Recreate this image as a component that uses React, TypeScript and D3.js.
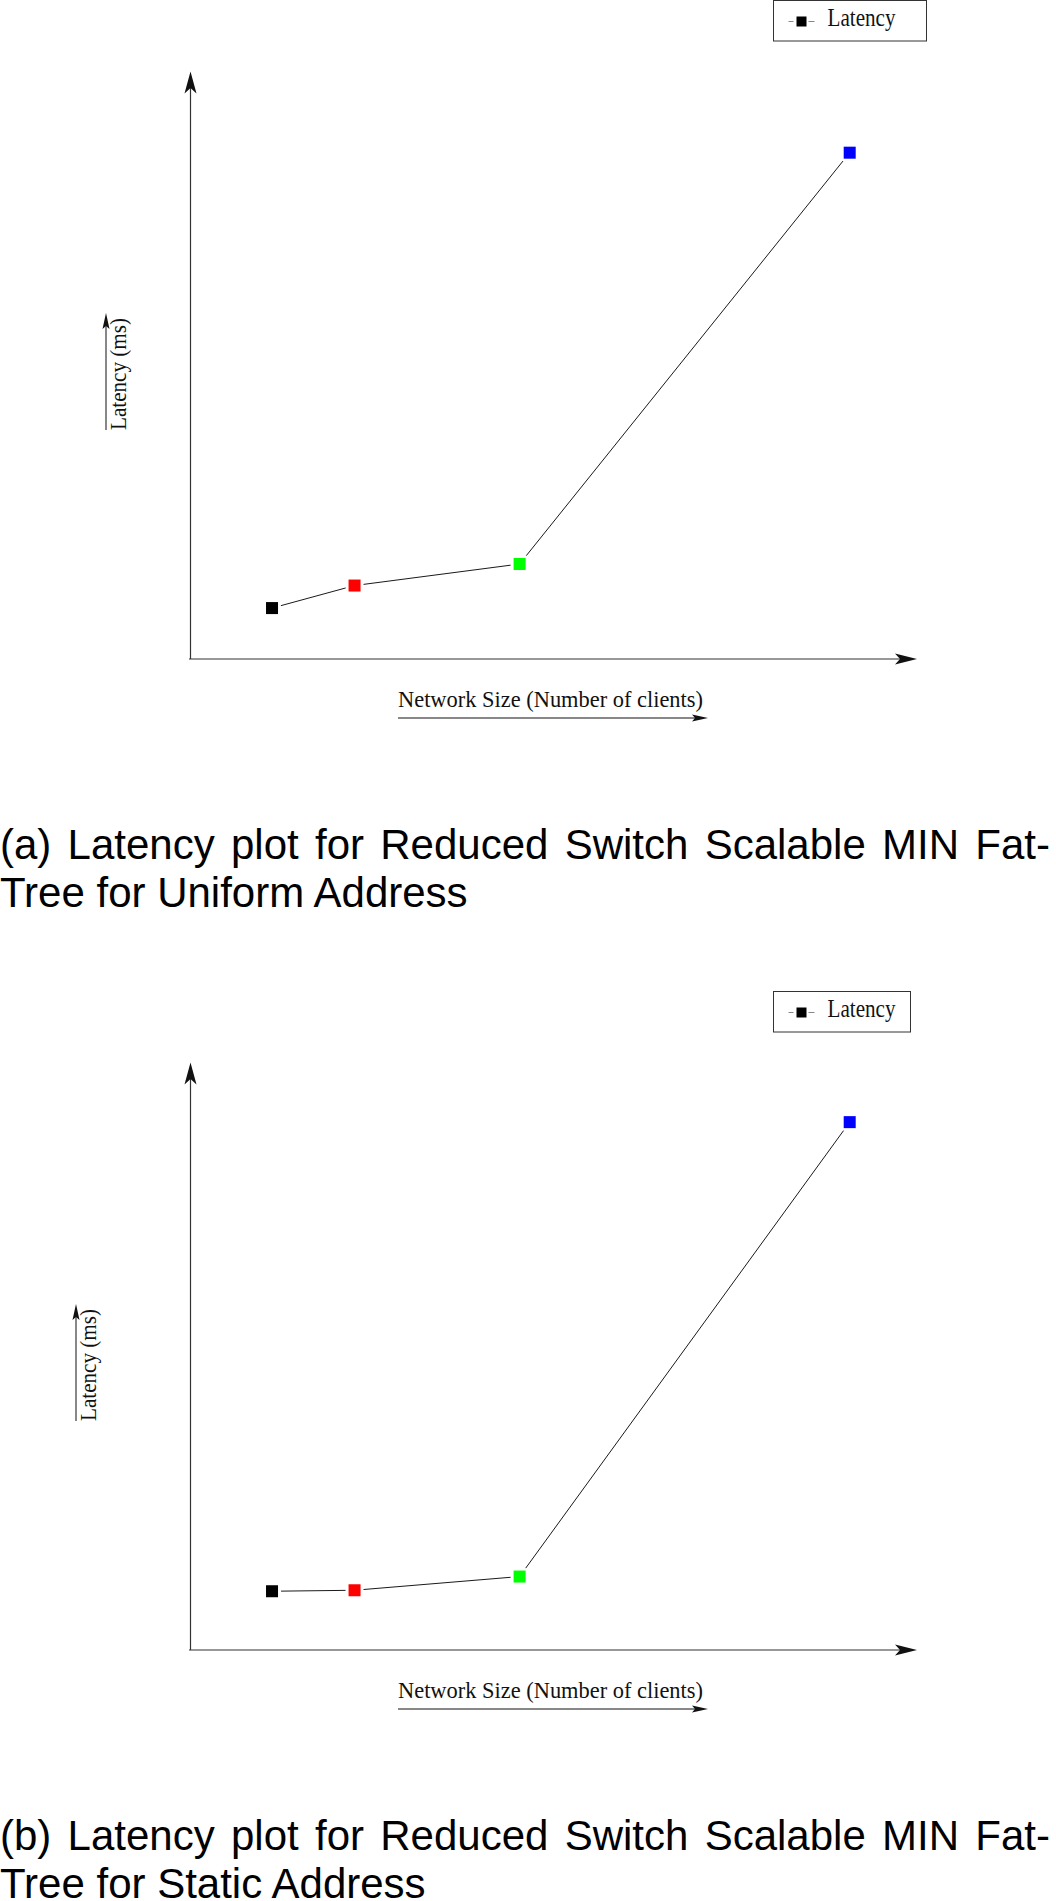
import React, { useEffect, useRef } from 'react';
import * as d3 from 'd3';

// network sizes (x) and the colour of each point's marker
const clientCounts = [16, 32, 64, 128];
const markerColors = ['#000000', '#ff0000', '#00ff00', '#0000ff'];

// latency in ms
const latencyUniform = [5.2, 7.5, 9.7, 51.7];
const latencyStatic = [6.0, 6.1, 7.5, 53.9];

const xDomainMax = 128;
const yDomainMax = 60;

const legendLabel = 'Latency';
const xLabel = 'Network Size (Number of clients)';
const yLabel = 'Latency (ms)';
const captionUniform = ['(a) Latency plot for Reduced Switch Scalable MIN Fat-', 'Tree for Uniform Address'];
const captionStatic = ['(b) Latency plot for Reduced Switch Scalable MIN Fat-', 'Tree for Static Address'];

const panels = [
  { values: latencyUniform, caption: captionUniform, top: 0, legendW: 153, yLabelX: 106 },
  { values: latencyStatic, caption: captionStatic, top: 991, legendW: 137, yLabelX: 76 },
];

const W = 1056;
const H = 1901;

export default function App() {
  const svgRef = useRef<SVGSVGElement>(null);

  useEffect(() => {
    if (!svgRef.current) return;
    const svg = d3.select(svgRef.current);
    svg.selectAll('*').remove();

    const axisX = 190.5;
    const axisY = 659;

    panels.forEach((p) => {
      const g = svg.append('g').attr('transform', `translate(0,${p.top})`);

      const x = d3.scaleLinear().domain([0, xDomainMax]).range([189.5, 849.7]);
      const y = d3.scaleLinear().domain([0, yDomainMax]).range([axisY, axisY - 587.6]);

      // axes with stealth arrowheads
      g.append('line')
        .attr('x1', 189).attr('y1', axisY).attr('x2', 900).attr('y2', axisY)
        .attr('stroke', '#333').attr('stroke-width', 1.2);
      g.append('path')
        .attr('d', `M917,${axisY} L895,${axisY - 5.5} L900,${axisY} L895,${axisY + 5.5} Z`)
        .attr('fill', '#111');
      g.append('line')
        .attr('x1', axisX).attr('y1', axisY).attr('x2', axisX).attr('y2', 88)
        .attr('stroke', '#333').attr('stroke-width', 1.2);
      g.append('path')
        .attr('d', `M${axisX},71.5 L${axisX - 6},93.5 L${axisX},88 L${axisX + 6},93.5 Z`)
        .attr('fill', '#111');

      // x label with underline arrow
      g.append('text')
        .attr('x', 398).attr('y', 707)
        .attr('font-family', '"Liberation Serif", "DejaVu Serif", serif')
        .attr('font-size', 24)
        .attr('textLength', 305)
        .attr('lengthAdjust', 'spacingAndGlyphs')
        .attr('fill', '#111')
        .text(xLabel);
      g.append('line')
        .attr('x1', 398).attr('y1', 718).attr('x2', 695).attr('y2', 718)
        .attr('stroke', '#111').attr('stroke-width', 1);
      g.append('path')
        .attr('d', 'M708,718 L692,714.5 L695,718 L692,721.5 Z')
        .attr('fill', '#111');

      // y label with overline arrow
      const lx = p.yLabelX;
      g.append('line')
        .attr('x1', lx).attr('y1', 430).attr('x2', lx).attr('y2', 326)
        .attr('stroke', '#111').attr('stroke-width', 1);
      g.append('path')
        .attr('d', `M${lx},313 L${lx - 3.5},329 L${lx},326 L${lx + 3.5},329 Z`)
        .attr('fill', '#111');
      g.append('text')
        .attr('transform', `translate(${lx + 20},430) rotate(-90)`)
        .attr('font-family', '"Liberation Serif", "DejaVu Serif", serif')
        .attr('font-size', 24)
        .attr('textLength', 112)
        .attr('lengthAdjust', 'spacingAndGlyphs')
        .attr('fill', '#111')
        .text(yLabel);

      // line segments stop a little short of each marker
      const pts = p.values.map((v, i) => [x(clientCounts[i]), y(v)] as [number, number]);
      const half = 6;
      const gap = 3;
      for (let i = 0; i < pts.length - 1; i++) {
        const [x1, y1] = pts[i];
        const [x2, y2] = pts[i + 1];
        const len = Math.hypot(x2 - x1, y2 - y1);
        const ux = (x2 - x1) / len;
        const uy = (y2 - y1) / len;
        const cut = half / Math.max(Math.abs(ux), Math.abs(uy)) + gap;
        g.append('line')
          .attr('x1', x1 + ux * cut).attr('y1', y1 + uy * cut)
          .attr('x2', x2 - ux * cut).attr('y2', y2 - uy * cut)
          .attr('stroke', '#1a1a1a').attr('stroke-width', 1);
      }

      g.append('g')
        .selectAll('rect')
        .data(pts)
        .enter()
        .append('rect')
        .attr('x', (d) => d[0] - half)
        .attr('y', (d) => d[1] - half)
        .attr('width', half * 2)
        .attr('height', half * 2)
        .attr('fill', (d, i) => markerColors[i]);

      // legend
      const lg = g.append('g').attr('transform', 'translate(773.5,0.5)');
      lg.append('rect')
        .attr('width', p.legendW).attr('height', 40.5)
        .attr('fill', 'white').attr('stroke', '#333').attr('stroke-width', 1);
      lg.append('line')
        .attr('x1', 15).attr('x2', 20).attr('y1', 21).attr('y2', 21)
        .attr('stroke', '#888').attr('stroke-width', 1);
      lg.append('line')
        .attr('x1', 35).attr('x2', 41).attr('y1', 21).attr('y2', 21)
        .attr('stroke', '#888').attr('stroke-width', 1);
      lg.append('rect')
        .attr('x', 23).attr('y', 16).attr('width', 10).attr('height', 10)
        .attr('fill', '#000');
      lg.append('text')
        .attr('x', 54).attr('y', 25)
        .attr('font-family', '"Liberation Serif", "DejaVu Serif", serif')
        .attr('font-size', 25)
        .attr('textLength', 68)
        .attr('lengthAdjust', 'spacingAndGlyphs')
        .attr('fill', '#111')
        .text(legendLabel);

      // caption: first line justified across the page width, second line ragged
      const capFont = '"Liberation Sans", Arial, sans-serif';
      const line1 = p.caption[0].split(' ');
      const words = g.append('g');
      const nodes = line1.map((w) =>
        words.append('text')
          .attr('y', 859)
          .attr('font-family', capFont)
          .attr('font-size', 42)
          .attr('fill', '#000')
          .text(w)
      );
      const widths = nodes.map((n) => (n.node() as SVGTextElement).getComputedTextLength());
      const total = d3.sum(widths);
      const spacing = (1050 - total) / (line1.length - 1);
      let cx = 0;
      nodes.forEach((n, i) => {
        n.attr('x', cx);
        cx += widths[i] + spacing;
      });
      g.append('text')
        .attr('x', 0).attr('y', 907)
        .attr('font-family', capFont)
        .attr('font-size', 42)
        .attr('fill', '#000')
        .text(p.caption[1]);
    });
  }, []);

  return (
    <svg
      ref={svgRef}
      width={W}
      height={H}
      style={{ position: 'absolute', left: 0, top: 0, background: 'white' }}
    />
  );
}
